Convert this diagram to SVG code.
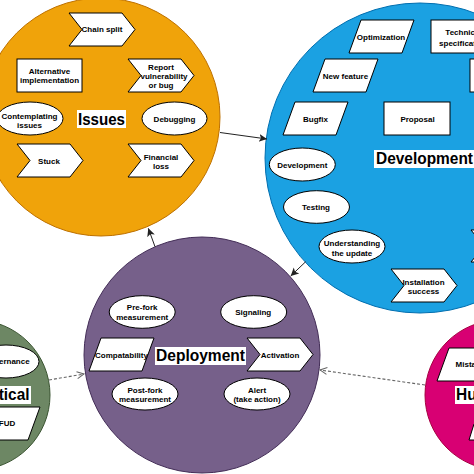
<svg xmlns="http://www.w3.org/2000/svg" width="474" height="474" viewBox="0 0 474 474">
<style>
.s{fill:#fff;stroke:#000;stroke-width:1}
.t{font-family:"Liberation Sans",Arial,sans-serif;font-weight:bold;font-size:8px;fill:#000;text-anchor:middle}
.L{font-family:"Liberation Sans",Arial,sans-serif;font-weight:bold;font-size:17px;fill:#000;text-anchor:middle}
.bg{fill:#fff}
.c{stroke-width:1}
.sol{stroke:#222;stroke-width:1;fill:none}
.dash{stroke:#666;stroke-width:1.1;fill:none;stroke-dasharray:3 2}
</style>
<defs>
<marker id="ah" markerUnits="userSpaceOnUse" markerWidth="10" markerHeight="10" refX="8" refY="4" orient="auto" viewBox="0 0 10 8">
<path d="M0,0 L8,4 L0,8 L2,4 Z" fill="#222"/>
</marker>
<marker id="ao" markerUnits="userSpaceOnUse" markerWidth="10" markerHeight="10" refX="8" refY="4" orient="auto" viewBox="0 0 10 8">
<path d="M1,0.5 L8,4 L1,7.5" fill="none" stroke="#666" stroke-width="1"/>
</marker>
</defs>
<rect width="474" height="474" fill="#fff"/>

<!-- circles -->
<g id="issues">
<circle class="c" cx="101" cy="117" r="119" fill="#F0A30A" stroke="#BD7000"/>
<rect class="bg" x="77" y="110" width="49" height="18"/>
<text class="L" x="101.5" y="125" textLength="47" lengthAdjust="spacingAndGlyphs">Issues</text>
</g>
<g id="development">
<circle class="c" cx="420" cy="158" r="155" fill="#1BA1E2" stroke="#006EAF"/>
<rect class="bg" x="374" y="150" width="102" height="18"/>
<text class="L" x="424.5" y="163.5" textLength="97" lengthAdjust="spacingAndGlyphs">Development</text>
</g>
<g id="deployment">
<circle class="c" cx="202" cy="355" r="118" fill="#76608A" stroke="#432D57"/>
<rect class="bg" x="155" y="347" width="91" height="18"/>
<text class="L" x="200.5" y="360.7" textLength="89" lengthAdjust="spacingAndGlyphs">Deployment</text>
</g>
<g id="political">
<circle class="c" cx="-25" cy="395" r="75" fill="#6D8764" stroke="#3A5431"/>
<rect class="bg" x="-31" y="386" width="62" height="18"/>
<text class="L" x="0" y="400" textLength="59" lengthAdjust="spacingAndGlyphs">Political</text>
</g>
<g id="human">
<circle class="c" cx="500" cy="395" r="75" fill="#D80073" stroke="#A50040"/>
<rect class="bg" x="455" y="386" width="56" height="18"/>
<text class="L" x="482.3" y="400" textLength="52.5" lengthAdjust="spacingAndGlyphs">Human</text>
</g>

<!-- connectors -->
<g id="connectors">
<line class="sol" x1="220" y1="132.5" x2="267" y2="139" marker-end="url(#ah)"/>
<line class="sol" x1="305.7" y1="261.7" x2="290.7" y2="276" marker-end="url(#ah)"/>
<line class="sol" x1="155" y1="246.7" x2="148.3" y2="228.3" marker-end="url(#ah)"/>
<line class="dash" x1="49" y1="380" x2="84" y2="374" marker-end="url(#ao)"/>
<line class="dash" x1="425" y1="385" x2="320" y2="370" marker-end="url(#ao)"/>
</g>

<!-- Issues nodes -->
<g id="chain-split"><polygon class="s" points="69,13 122,13 135,29.5 122,46 69,46 82,29.5"/><text class="t" x="102" y="32.3">Chain split</text></g>
<g id="alt-impl"><rect class="s" x="17" y="59" width="65" height="33"/><text class="t" x="49.5" y="74">Alternative</text><text class="t" x="49.5" y="83.2">implementation</text></g>
<g id="report"><polygon class="s" points="128,59 181,59 194,75.5 181,92 128,92 141,75.5"/><text class="t" x="161" y="69.5">Report</text><text class="t" x="164" y="78.8">vulnerability</text><text class="t" x="161" y="88.1">or bug</text></g>
<g id="contemplating"><ellipse class="s" cx="30" cy="118.5" rx="33" ry="16.5"/><text class="t" x="29.5" y="118.6">Contemplating</text><text class="t" x="29.5" y="127.5">issues</text></g>
<g id="debugging"><ellipse class="s" cx="174.5" cy="118.5" rx="32.5" ry="16.5"/><text class="t" x="174.5" y="121.5">Debugging</text></g>
<g id="stuck"><polygon class="s" points="17,144 70,144 83,160.5 70,177 17,177 30,160.5"/><text class="t" x="49" y="164.1">Stuck</text></g>
<g id="financial"><polygon class="s" points="128,144 181,144 194,160.5 181,177 128,177 141,160.5"/><text class="t" x="161" y="159.8">Financial</text><text class="t" x="161" y="168.9">loss</text></g>

<!-- Development nodes -->
<g id="optimization"><polygon class="s" points="361,20 414,20 402,53 349,53"/><text class="t" x="381" y="39.5">Optimization</text></g>
<g id="tech-spec"><rect class="s" x="431" y="20" width="65" height="33"/><text class="t" x="463.5" y="35.1">Technical</text><text class="t" x="463.5" y="45.5">specification</text></g>
<g id="dev-rect-hidden"><rect class="s" x="470" y="59" width="65" height="33"/></g>
<g id="new-feature"><polygon class="s" points="325,59 378,59 366,92 313,92"/><text class="t" x="345.5" y="78.8">New feature</text></g>
<g id="bugfix"><polygon class="s" points="295,102 348,102 336,135 283,135"/><text class="t" x="315.5" y="121.5">Bugfix</text></g>
<g id="proposal"><rect class="s" x="384" y="102" width="66" height="33"/><text class="t" x="417.5" y="121.5">Proposal</text></g>
<g id="development-node"><ellipse class="s" cx="302.3" cy="164.5" rx="33" ry="16.5"/><text class="t" x="302.3" y="167.5">Development</text></g>
<g id="testing"><ellipse class="s" cx="316.5" cy="207" rx="33" ry="16.3"/><text class="t" x="316" y="210.1">Testing</text></g>
<g id="understanding"><ellipse class="s" cx="352" cy="246.5" rx="33" ry="16.5"/><text class="t" x="352" y="246.1">Understanding</text><text class="t" x="352" y="255.5">the update</text></g>
<g id="installation"><polygon class="s" points="391,269 444,269 457,285.5 444,302 391,302 404,285.5"/><text class="t" x="423.5" y="284.6">Installation</text><text class="t" x="423.5" y="293.9">success</text></g>
<g id="dev-step-hidden"><polygon class="s" points="471,230 524,230 537,246 524,262 471,262 484,246"/></g>

<!-- Deployment nodes -->
<g id="pre-fork"><ellipse class="s" cx="142.2" cy="312" rx="33" ry="16.3"/><text class="t" x="142.2" y="310.3">Pre-fork</text><text class="t" x="142.2" y="319.8">measurement</text></g>
<g id="signaling"><ellipse class="s" cx="253.7" cy="312" rx="33" ry="16.3"/><text class="t" x="253.2" y="315.3">Signaling</text></g>
<g id="compatability"><polygon class="s" points="101,338 154,338 142,371 89,371"/><text class="t" x="121.5" y="358.1">Compatability</text></g>
<g id="activation"><polygon class="s" points="247,338 300,338 313,354.5 300,371 247,371 260,354.5"/><text class="t" x="280" y="358.1">Activation</text></g>
<g id="post-fork"><ellipse class="s" cx="145" cy="394" rx="33" ry="16"/><text class="t" x="145" y="392.6">Post-fork</text><text class="t" x="145" y="401.8">measurement</text></g>
<g id="alert"><ellipse class="s" cx="257" cy="394" rx="33" ry="16"/><text class="t" x="257" y="392.6">Alert</text><text class="t" x="257" y="401.8">(take action)</text></g>

<!-- Political nodes -->
<g id="governance"><ellipse class="s" cx="6" cy="361.5" rx="33" ry="16.5"/><text class="t" x="6.5" y="364.4">Governance</text></g>
<g id="fud"><polygon class="s" points="-13,407 40,407 28,440 -25,440"/><text class="t" x="7" y="426.3">FUD</text></g>

<!-- Human nodes -->
<g id="mistakes"><polygon class="s" points="449,348 502,348 490,381 437,381"/><text class="t" x="472.5" y="367.2">Mistakes</text></g>
<g id="human-hidden"><polygon class="s" points="474,424 540,424 535,440 469,440"/></g>
</svg>
